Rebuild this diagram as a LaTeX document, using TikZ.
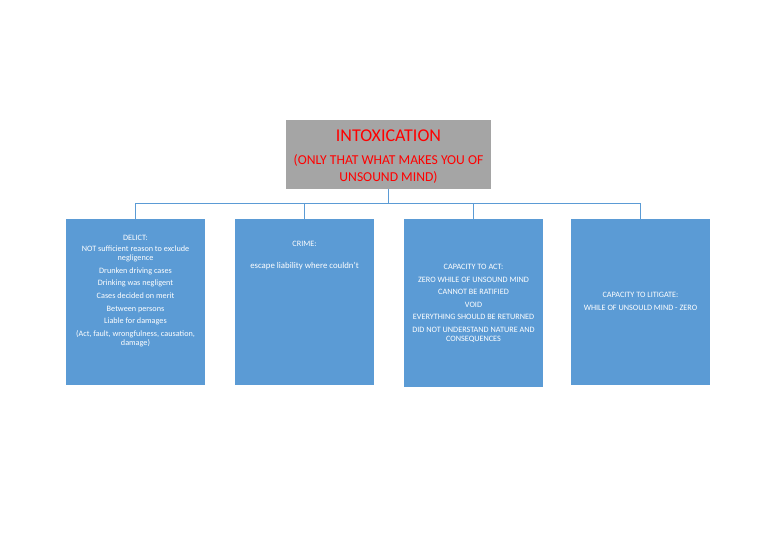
\documentclass[tikz,border=0pt]{standalone}
\usepackage{fontspec}
\setmainfont{Carlito}
\definecolor{boxblue}{HTML}{5B9BD5}
\definecolor{boxgray}{HTML}{A5A5A5}
\definecolor{titlered}{HTML}{FF0000}
\tikzset{
  topbox/.style={draw=none, fill=boxgray, minimum width=205pt, minimum height=69pt, inner sep=0pt},
  subbox/.style={draw=none, fill=boxblue, minimum width=139pt, minimum height=166pt, inner sep=0pt},
  conn/.style={draw=boxblue, line width=0.9pt},
  boxtext/.style={text=white, align=center, inner sep=0pt, font=\fontsize{8.2}{9.3}\selectfont},
}
\begin{document}
\begin{tikzpicture}[x=1pt,y=-1pt]
\useasboundingbox (0,0) rectangle (768,543);
\fill[white] (0,0) rectangle (768,543);
% top box
\node[topbox] (top) at (388.5,154.5) {};
\node[text=titlered, font=\fontsize{18}{20}\selectfont, inner sep=0pt] (t1) at (388.5,136) {INTOXICATION};
\node[text=titlered, font=\fontsize{13.6}{17}\selectfont, align=center, inner sep=0pt] (t2) at (388.5,168.5) {(ONLY THAT WHAT MAKES YOU OF\\UNSOUND MIND)};
% sub boxes
\node[subbox] (b1) at (135.5,302) {};
\node[subbox] (b2) at (304.5,302) {};
\node[subbox, minimum height=168pt] (b3) at (473.5,303) {};
\node[subbox] (b4) at (640.5,302) {};
% connectors
\coordinate (j) at (388.5,203);
\coordinate (j1) at (135.5,203);
\coordinate (j2) at (304.5,203);
\coordinate (j3) at (473.5,203);
\coordinate (j4) at (640.5,203);
\draw[conn] (top.south) -- (j);
\draw[conn] (j1) -- (j4);
\draw[conn] (j1) -- (b1.north);
\draw[conn] (j2) -- (b2.north);
\draw[conn] (j3) -- (b3.north);
\draw[conn] (j4) -- (b4.north);
% texts
\node[boxtext, anchor=north] (x1) at (135.5,235) {DELICT:\\[1.6pt]
NOT sufficient reason to exclude\\negligence\\[3.3pt]
Drunken driving cases\\[3.3pt]
Drinking was negligent\\[3.3pt]
Cases decided on merit\\[3.3pt]
Between persons\\[3.3pt]
Liable for damages\\[3.3pt]
(Act, fault, wrongfulness, causation,\\damage)};
\node[boxtext, anchor=north] (x2) at (304.5,241) {{\fontsize{8.2}{9}\selectfont CRIME:}\\[13pt]
{\fontsize{8.8}{9}\selectfont escape liability where couldn't}};
\node[boxtext, anchor=north] (x3) at (473.5,264) {CAPACITY TO ACT:\\[3.3pt]
ZERO WHILE OF UNSOUND MIND\\[3.3pt]
CANNOT BE RATIFIED\\[3.3pt]
VOID\\[3.3pt]
EVERYTHING SHOULD BE RETURNED\\[3.3pt]
DID NOT UNDERSTAND NATURE AND\\CONSEQUENCES};
\node[boxtext, anchor=north] (x4) at (640.5,292) {CAPACITY TO LITIGATE:\\[3.6pt]
WHILE OF UNSOULD MIND - ZERO};
\end{tikzpicture}
\end{document}
